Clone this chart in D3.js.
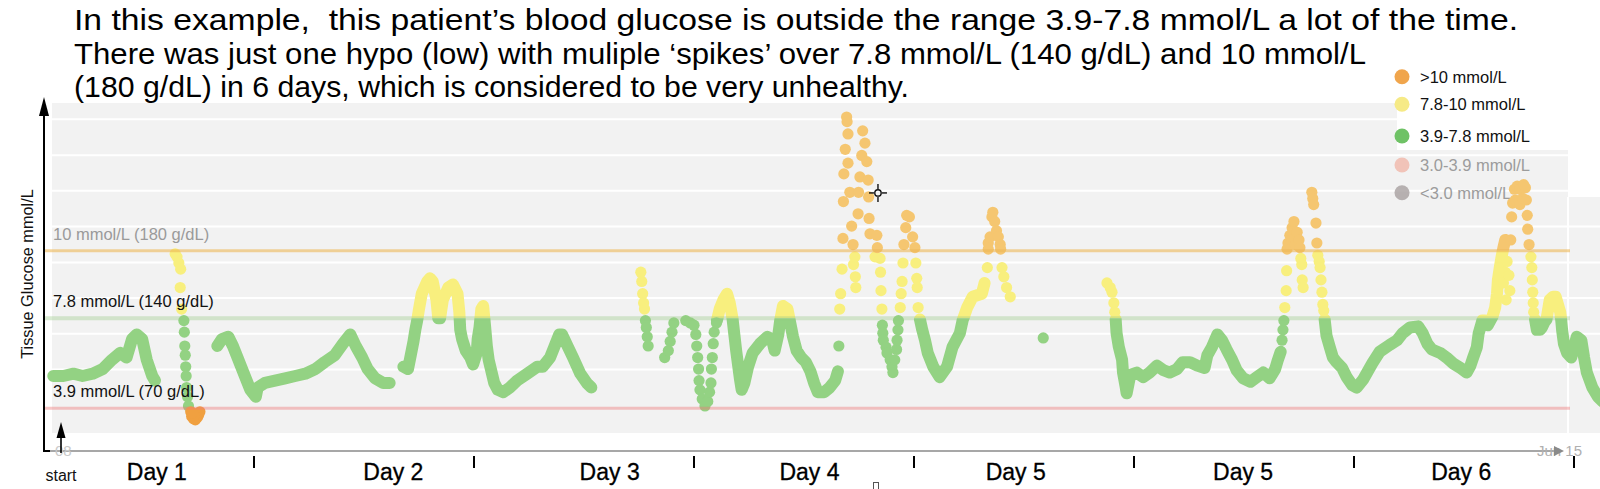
<!DOCTYPE html>
<html>
<head>
<meta charset="utf-8">
<script src="https://cdn.jsdelivr.net/npm/d3@7"></script>
<style>
  html, body { margin: 0; padding: 0; background: #fff; }
  svg { display: block; font-family: "Liberation Sans", Arial, Helvetica, sans-serif; }
</style>
</head>
<body>
<svg id="chart" width="1600" height="489"></svg>
<script>
const titleLines = [
  'In this example,  this patient\u2019s blood glucose is outside the range 3.9-7.8 mmol/L a lot of the time.',
  'There was just one hypo (low) with muliple \u2018spikes\u2019 over 7.8 mmol/L (140 g/dL) and 10 mmol/L',
  '(180 g/dL) in 6 days, which is considered to be very unhealthy.'
];
const dayTicks = [24, 48, 72, 96, 120, 144, 168];
const dayLabels = ['Day 1', 'Day 2', 'Day 3', 'Day 4', 'Day 5', 'Day 5', 'Day 6'];
const dayLabelHours = [13.4, 39.2, 62.8, 84.6, 107.1, 131.9, 155.7];
const thresholds = [10, 7.8, 3.9];
const thresholdLabels = ['10 mmol/L (180 g/dL)', '7.8 mmol/L (140 g/dL)', '3.9 mmol/L (70 g/dL)'];
const gridValues = [14.28, 13.11, 11.95, 10.79, 9.62, 8.46, 7.13, 5.58];
const legendLabels = ['>10 mmol/L', '7.8-10 mmol/L', '3.9-7.8 mmol/L', '3.0-3.9 mmol/L', '<3.0 mmol/L'];
const cursorAt = [92.07, 11.88];

// readings, [hours from start, mmol/L]; "trace" = dense run, "spike" = sparse run
const trace1 = [[2.1,5.3],[3.2,5.3],[4.3,5.4],[5.3,5.3],[6.4,5.4],[7.5,5.6],[8.5,6.0],[9.4,6.3],[10.1,6.1],[10.7,6.9],[11.2,7.1],[11.8,6.9],[12.3,6.0],[12.9,5.3],[13.2,5.1]];
const spike1 = [[15.4,9.9],[15.6,9.8],[15.8,9.6],[16.0,9.4],[15.95,8.8],[16.1,8.1],[16.35,7.7],[16.4,7.2],[16.45,6.6],[16.5,6.2],[16.55,5.7],[16.6,5.3],[16.65,4.8],[16.75,4.4],[16.85,4.0],[17.1,3.75],[17.2,3.55],[17.4,3.45],[17.6,3.4],[17.8,3.5],[17.95,3.6],[18.1,3.75],[17.5,3.6],[17.3,3.7]];
const trace2 = [[20.0,6.6],[20.5,6.9],[21.2,7.0],[21.7,6.6],[22.2,6.1],[22.6,5.7],[23.0,5.3],[23.6,4.7],[24.2,4.4],[24.4,4.8],[25.2,5.0],[26.3,5.1],[27.4,5.2],[28.5,5.3],[29.6,5.4],[30.7,5.6],[31.7,5.9],[32.8,6.2],[33.7,6.7],[34.5,7.1],[35.1,6.6],[35.8,6.1],[36.4,5.6],[37.2,5.2],[38.1,5.0],[38.8,5.0]];
const trace3 = [[40.3,5.7],[40.8,5.6],[41.1,6.2],[41.4,6.8],[41.6,7.3],[41.8,7.7],[42.0,8.1],[42.3,8.6],[42.9,9.0],[43.2,9.1],[43.5,9.0],[43.9,8.4],[44.1,7.8],[44.3,7.8],[44.6,8.4],[45.2,8.8],[45.7,8.9],[46.2,8.6],[46.4,8.0],[46.5,7.3],[46.7,6.9],[47.1,6.4],[47.6,6.1],[47.9,5.8],[48.3,6.3],[48.4,6.9],[48.6,7.4],[48.8,8.1],[49.0,8.2],[49.2,7.5],[49.4,6.6],[49.6,6.0],[49.9,5.5],[50.2,5.0],[50.6,4.7],[51.2,4.6],[51.9,4.8],[52.7,5.1],[53.8,5.4],[54.9,5.7],[55.5,5.7],[56.3,6.1],[56.8,6.6],[57.3,7.1],[57.6,7.1],[58.2,6.6],[58.8,6.1],[59.6,5.4],[60.3,5.0],[60.8,4.8]];
const spike2 = [[66.2,9.3],[66.3,9.0],[66.4,8.6],[66.5,8.3],[66.6,8.1],[66.7,7.7],[66.8,7.4],[66.9,7.0],[67.0,6.6],[68.8,6.1],[69.2,6.4],[69.4,6.8],[69.6,7.2],[69.8,7.6]];
const spike3 = [[71.1,7.7],[71.6,7.6],[72.0,7.5],[72.2,7.1],[72.3,6.6],[72.4,6.1],[72.5,5.6],[72.55,5.1],[72.65,4.7],[72.9,4.3],[73.2,4.0],[73.5,4.2],[73.7,4.6],[73.85,5.0],[73.9,5.6],[74.0,6.1],[74.1,6.7],[74.2,7.2],[74.45,7.6]];
const trace4 = [[74.5,7.7],[74.8,8.1],[75.2,8.4],[75.6,8.6],[75.9,8.3],[76.2,7.8],[76.4,7.1],[76.6,6.4],[76.8,5.8],[77.0,5.2],[77.2,4.7],[77.5,5.0],[77.9,5.7],[78.4,6.3],[79.2,6.7],[80.0,7.0],[80.5,6.9],[80.8,6.4],[81.2,7.1],[81.4,7.7],[81.7,8.2],[82.2,8.1],[82.5,7.6],[82.8,7.0],[83.2,6.4],[83.7,6.1],[84.2,5.9],[84.7,5.5],[85.1,5.0],[85.5,4.6],[86.2,4.6],[86.8,4.8],[87.4,5.1],[87.7,5.5]];
const spike4 = [[87.8,6.6],[87.9,8.1],[88.0,8.6],[88.15,9.4],[88.25,10.4],[88.3,11.6],[88.35,12.5],[88.5,13.3],[88.65,14.35],[88.7,14.2],[88.8,13.8],[88.8,12.85],[89.0,11.9],[89.2,10.8],[89.35,10.2],[89.4,9.55],[89.55,9.8],[89.6,9.15],[89.65,8.8],[89.9,11.2],[89.95,11.9],[90.1,12.4],[90.3,13.1],[90.4,13.9],[90.65,13.5],[90.85,12.9],[91.0,12.3],[91.05,11.75],[91.1,11.05],[91.2,10.55],[91.75,9.8],[91.95,10.5],[92.0,10.1],[92.3,9.75],[92.35,9.3],[92.4,8.7],[92.5,8.1],[92.55,7.5],[92.6,7.15],[92.65,6.85],[92.95,6.55],[93.05,6.3],[93.4,6.0],[93.6,5.7],[93.7,5.45],[93.9,6.0],[94.1,6.45],[94.15,6.85],[94.25,7.3],[94.3,7.7],[94.5,8.15],[94.6,8.6],[94.7,9.0],[94.8,9.6],[94.9,10.2],[95.1,10.75],[95.2,11.15],[95.5,11.1],[95.85,10.45],[96.1,10.1],[96.2,9.6],[96.3,9.1],[96.35,8.8],[96.45,8.15]];
const trace5 = [[96.65,7.75],[96.9,7.3],[97.2,6.85],[97.5,6.3],[98.1,5.7],[98.8,5.25],[99.6,5.7],[100.2,6.55],[101.0,7.15],[101.3,7.7],[101.8,8.15],[102.4,8.5],[103.4,8.6],[103.7,8.95]];
const spike5 = [[104.0,9.45],[104.1,10.05],[104.1,10.25],[104.3,10.45],[104.5,11.1],[104.6,11.25],[104.8,10.95],[105.0,10.65],[105.2,10.45],[105.4,10.2],[105.45,10.05],[105.6,9.45],[105.8,9.15],[106.1,8.8],[106.5,8.5],[110.1,6.95]];
const spike6 = [[117.05,8.95],[117.4,8.8],[117.6,8.65],[117.8,8.3],[117.9,8.0]];
const trace6 = [[118.0,7.75],[118.1,7.15],[118.35,6.55],[118.7,6.0],[118.8,5.45],[119.1,4.8],[119.2,4.55],[119.6,5.35],[120.3,5.45],[121.0,5.25],[121.7,5.45],[122.5,5.75],[123.2,5.55],[123.9,5.45],[124.7,5.6],[125.3,5.9],[126.1,5.9],[126.9,5.75],[127.7,5.65],[128.0,6.2],[128.5,6.55],[129.1,7.1],[129.6,6.85],[130.1,6.45],[130.7,6.0],[131.2,5.55],[131.9,5.2],[132.7,5.05],[133.4,5.25],[134.1,5.45],[134.8,5.2],[135.4,5.6],[135.7,6.0],[136.0,6.35]];
const spike7 = [[136.15,6.85],[136.25,7.3],[136.35,7.7],[136.45,8.15],[136.6,8.7],[136.65,9.35],[136.7,10.05],[136.8,10.25],[137.0,10.5],[137.2,10.35],[137.25,10.75],[137.45,10.95],[137.6,10.2],[137.8,10.6],[138.0,10.35],[138.1,10.1],[138.2,9.75],[138.3,9.55],[138.35,9.05],[138.45,8.8],[139.4,11.9],[139.5,11.7],[139.6,11.5],[139.85,10.9],[139.95,10.25],[140.05,9.85],[140.2,9.65],[140.3,9.45],[140.4,9.05],[140.5,8.65],[140.6,8.25],[140.7,8.05]];
const trace7 = [[140.8,7.75],[141.0,7.05],[141.4,6.5],[141.7,6.1],[142.1,5.9],[142.7,5.65],[143.2,5.25],[143.8,4.9],[144.3,4.8],[145.0,5.15],[146.0,5.85],[146.8,6.35],[147.9,6.65],[148.7,6.85],[149.3,7.15],[150.1,7.4],[151.0,7.45],[151.5,7.15],[152.0,6.7],[152.5,6.45],[153.4,6.3],[154.1,6.1],[154.8,5.85],[155.6,5.65],[156.3,5.45],[156.7,5.75],[157.0,6.1],[157.4,6.55],[157.6,7.15],[158.0,7.7],[158.3,7.7],[158.6,7.5],[159.1,7.85],[159.4,8.15],[159.6,8.6],[159.7,9.05],[159.9,9.45],[160.1,9.8],[160.3,10.1],[160.5,10.35]];
const spike8 = [[160.3,8.95],[160.5,9.3],[160.7,9.65],[160.9,9.2],[161.0,8.7],[160.6,8.4],[161.1,10.35],[161.2,11.1],[161.3,11.55],[161.5,12.0],[161.6,11.65],[161.8,12.1],[162.1,12.0],[162.1,11.5],[162.4,11.7],[162.5,12.15],[162.7,12.05],[162.8,11.65],[162.9,11.15],[162.95,10.7],[163.1,10.2],[163.3,9.8],[163.4,9.45],[163.45,9.05],[163.5,8.65],[163.55,8.3],[163.6,8.0]];
const trace8 = [[163.75,7.75],[163.95,7.3],[164.3,7.3],[164.5,7.4],[164.8,7.65],[165.0,7.75],[165.35,8.4],[165.7,8.5],[166.0,8.5],[166.2,8.3],[166.5,8.0],[166.6,7.75],[166.7,7.3],[166.9,6.7],[167.25,6.3],[167.7,6.1],[168.0,6.55],[168.3,7.0],[168.8,6.85],[169.1,6.1],[169.4,5.45],[170.0,4.8],[170.6,4.4],[171.1,4.2]];

const traces = [trace1, trace2, trace3, trace4, trace5, trace6, trace7, trace8];
const spikes = [spike1, spike2, spike3, spike4, spike5, spike6, spike7, spike8];

const W = 1600, H = 489;
const colHigh = '#f5c670', colMid = '#f8ef7e', colIn = '#93d283', colLow = '#f0a040';

const svg = d3.select('#chart');

const x = d3.scaleLinear().domain([0, 168]).range([34, 1574]);
// the chart's own axis is not linear between the target lines
const y = d3.scaleLinear().domain([3.9, 7.8, 10]).range([408.3, 318.3, 250.7]);

function colour(v) {
  if (v > 10) return colHigh;
  if (v >= 7.8) return colMid;
  if (v >= 3.9) return colIn;
  return colLow;
}

// plot background + grid
svg.append('rect').attr('x', 52).attr('y', 103).attr('width', W - 52).attr('height', 330).attr('fill', '#f2f2f2');
svg.selectAll('.grid').data(gridValues).enter().append('line')
  .attr('x1', 52).attr('x2', W)
  .attr('y1', d => y(d)).attr('y2', d => y(d))
  .attr('stroke', '#fff').attr('stroke-width', 2);
svg.append('line').attr('x1', x(168) - 6).attr('x2', x(168) - 6).attr('y1', 197).attr('y2', 440)
  .attr('stroke', '#fff').attr('stroke-width', 2);

// legend
svg.append('rect').attr('x', 1397).attr('y', 50).attr('width', 171).attr('height', 100).attr('fill', '#fff');
svg.append('rect').attr('x', 1568).attr('y', 50).attr('width', 32).attr('height', 147).attr('fill', '#fff');
const legendY = [76.7, 104.3, 136, 165, 192.7];
const legendFill = ['#f0a54c', '#f6ea86', '#6fc266', '#f0b3a4', '#a19a9a'];
const legend = svg.selectAll('.legend').data(legendLabels).enter().append('g')
  .attr('transform', (d, i) => `translate(1402,${legendY[i]})`);
legend.append('circle').attr('r', 7.5).attr('fill', (d, i) => legendFill[i])
  .attr('opacity', (d, i) => i < 3 ? 1 : 0.75);
legend.append('text').attr('x', 18).attr('y', 6)
  .attr('font-size', 16.5)
  .attr('fill', (d, i) => i < 3 ? '#111' : '#9c9c9c')
  .text(d => d);

// glucose traces, coloured by band
const bands = [
  {id: 'b-high', y0: 0, y1: y(10), c: colHigh},
  {id: 'b-mid', y0: y(10), y1: y(7.8), c: colMid},
  {id: 'b-in', y0: y(7.8), y1: y(3.9), c: colIn},
  {id: 'b-low', y0: y(3.9), y1: H, c: colLow}
];
const defs = svg.append('defs');
bands.forEach(b => {
  defs.append('clipPath').attr('id', b.id).append('rect')
    .attr('x', 0).attr('y', b.y0).attr('width', W).attr('height', b.y1 - b.y0);
});
const line = d3.line().x(d => x(d[0])).y(d => y(d[1]));
const data = svg.append('g');
bands.forEach(b => {
  data.append('g').attr('clip-path', `url(#${b.id})`)
    .selectAll('path').data(traces).enter().append('path')
    .attr('d', line)
    .attr('fill', 'none').attr('stroke', b.c)
    .attr('stroke-width', 12).attr('stroke-linecap', 'round').attr('stroke-linejoin', 'round');
});
data.selectAll('.pt').data(spikes.flat()).enter().append('circle')
  .attr('cx', d => x(d[0])).attr('cy', d => y(d[1])).attr('r', 5.6)
  .attr('fill', d => colour(d[1]));

// target lines
const lineStyle = [
  {c: 'rgba(236,184,86,0.6)', w: 3},
  {c: 'rgba(150,200,130,0.36)', w: 4},
  {c: 'rgba(238,120,120,0.42)', w: 3}
];
svg.selectAll('.target').data(thresholds).enter().append('line')
  .attr('x1', 44).attr('x2', 1570)
  .attr('y1', d => y(d)).attr('y2', d => y(d))
  .attr('stroke', (d, i) => lineStyle[i].c).attr('stroke-width', (d, i) => lineStyle[i].w);
svg.selectAll('.target-label').data(thresholdLabels).enter().append('text')
  .attr('x', 53).attr('y', (d, i) => y(thresholds[i]) - 11)
  .attr('font-size', 16.5)
  .attr('fill', (d, i) => i === 0 ? '#9a9a9a' : '#111')
  .text(d => d);

// axes
svg.append('line').attr('x1', 44).attr('x2', 1556).attr('y1', 451).attr('y2', 451)
  .attr('stroke', '#8a8a8a').attr('stroke-width', 1.5);
svg.append('line').attr('x1', 44).attr('x2', 50).attr('y1', 451).attr('y2', 451)
  .attr('stroke', '#000').attr('stroke-width', 2);
svg.append('line').attr('x1', 44).attr('x2', 44).attr('y1', 452).attr('y2', 112)
  .attr('stroke', '#000').attr('stroke-width', 2);
svg.append('path').attr('d', 'M44,97 L49,116 L39,116 Z').attr('fill', '#000');
svg.append('text').attr('x', 55).attr('y', 456).attr('font-size', 15).attr('fill', '#c9c9c9').text('08');
svg.append('text').attr('x', 1537).attr('y', 456).attr('font-size', 15).attr('fill', '#b0b0b0').text('Jun 15');
svg.append('path').attr('d', 'M1554,446 L1564,451 L1554,456 Z').attr('fill', '#8a8a8a');

svg.selectAll('.day-tick').data(dayTicks).enter().append('line')
  .attr('x1', d => x(d)).attr('x2', d => x(d))
  .attr('y1', 456).attr('y2', 468)
  .attr('stroke', '#000').attr('stroke-width', 2);
svg.selectAll('.day-label').data(dayLabels).enter().append('text')
  .attr('x', (d, i) => x(dayLabelHours[i])).attr('y', 480)
  .attr('text-anchor', 'middle').attr('font-size', 23).attr('fill', '#000')
  .attr('stroke', '#000').attr('stroke-width', 0.3)
  .text(d => d);

svg.append('text')
  .attr('transform', 'translate(27,274) rotate(-90)')
  .attr('text-anchor', 'middle').attr('dominant-baseline', 'central')
  .attr('font-size', 16.3).attr('fill', '#111')
  .text('Tissue Glucose mmol/L');

// start marker
svg.append('line').attr('x1', 61).attr('x2', 61).attr('y1', 453).attr('y2', 434)
  .attr('stroke', '#000').attr('stroke-width', 1.6);
svg.append('path').attr('d', 'M61,422 L65.5,438 L56.5,438 Z').attr('fill', '#000');
svg.append('text').attr('x', 61).attr('y', 481).attr('text-anchor', 'middle')
  .attr('font-size', 16).attr('fill', '#111').text('start');

// cursor
const cur = svg.append('g').attr('transform', `translate(${x(cursorAt[0])},${y(cursorAt[1])})`)
  .attr('stroke', '#111').attr('stroke-width', 1.4).attr('fill', 'none');
cur.append('circle').attr('r', 3.2);
[[0, -4, 0, -9], [0, 4, 0, 9], [-4, 0, -9, 0], [4, 0, 9, 0]].forEach(s => {
  cur.append('line').attr('x1', s[0]).attr('y1', s[1]).attr('x2', s[2]).attr('y2', s[3]);
});
svg.append('rect').attr('x', 873.5).attr('y', 482.5).attr('width', 5).attr('height', 7)
  .attr('fill', 'none').attr('stroke', '#555').attr('stroke-width', 1);

// title
const titleWidths = [1444, 1292, 835];
svg.selectAll('.title').data(titleLines).enter().append('text')
  .attr('x', 74).attr('y', (d, i) => 30 + i * 33.5)
  .attr('font-size', 30).attr('fill', '#000')
  .attr('textLength', (d, i) => titleWidths[i]).attr('lengthAdjust', 'spacingAndGlyphs')
  .style('white-space', 'pre')
  .text(d => d);
</script>
</body>
</html>
